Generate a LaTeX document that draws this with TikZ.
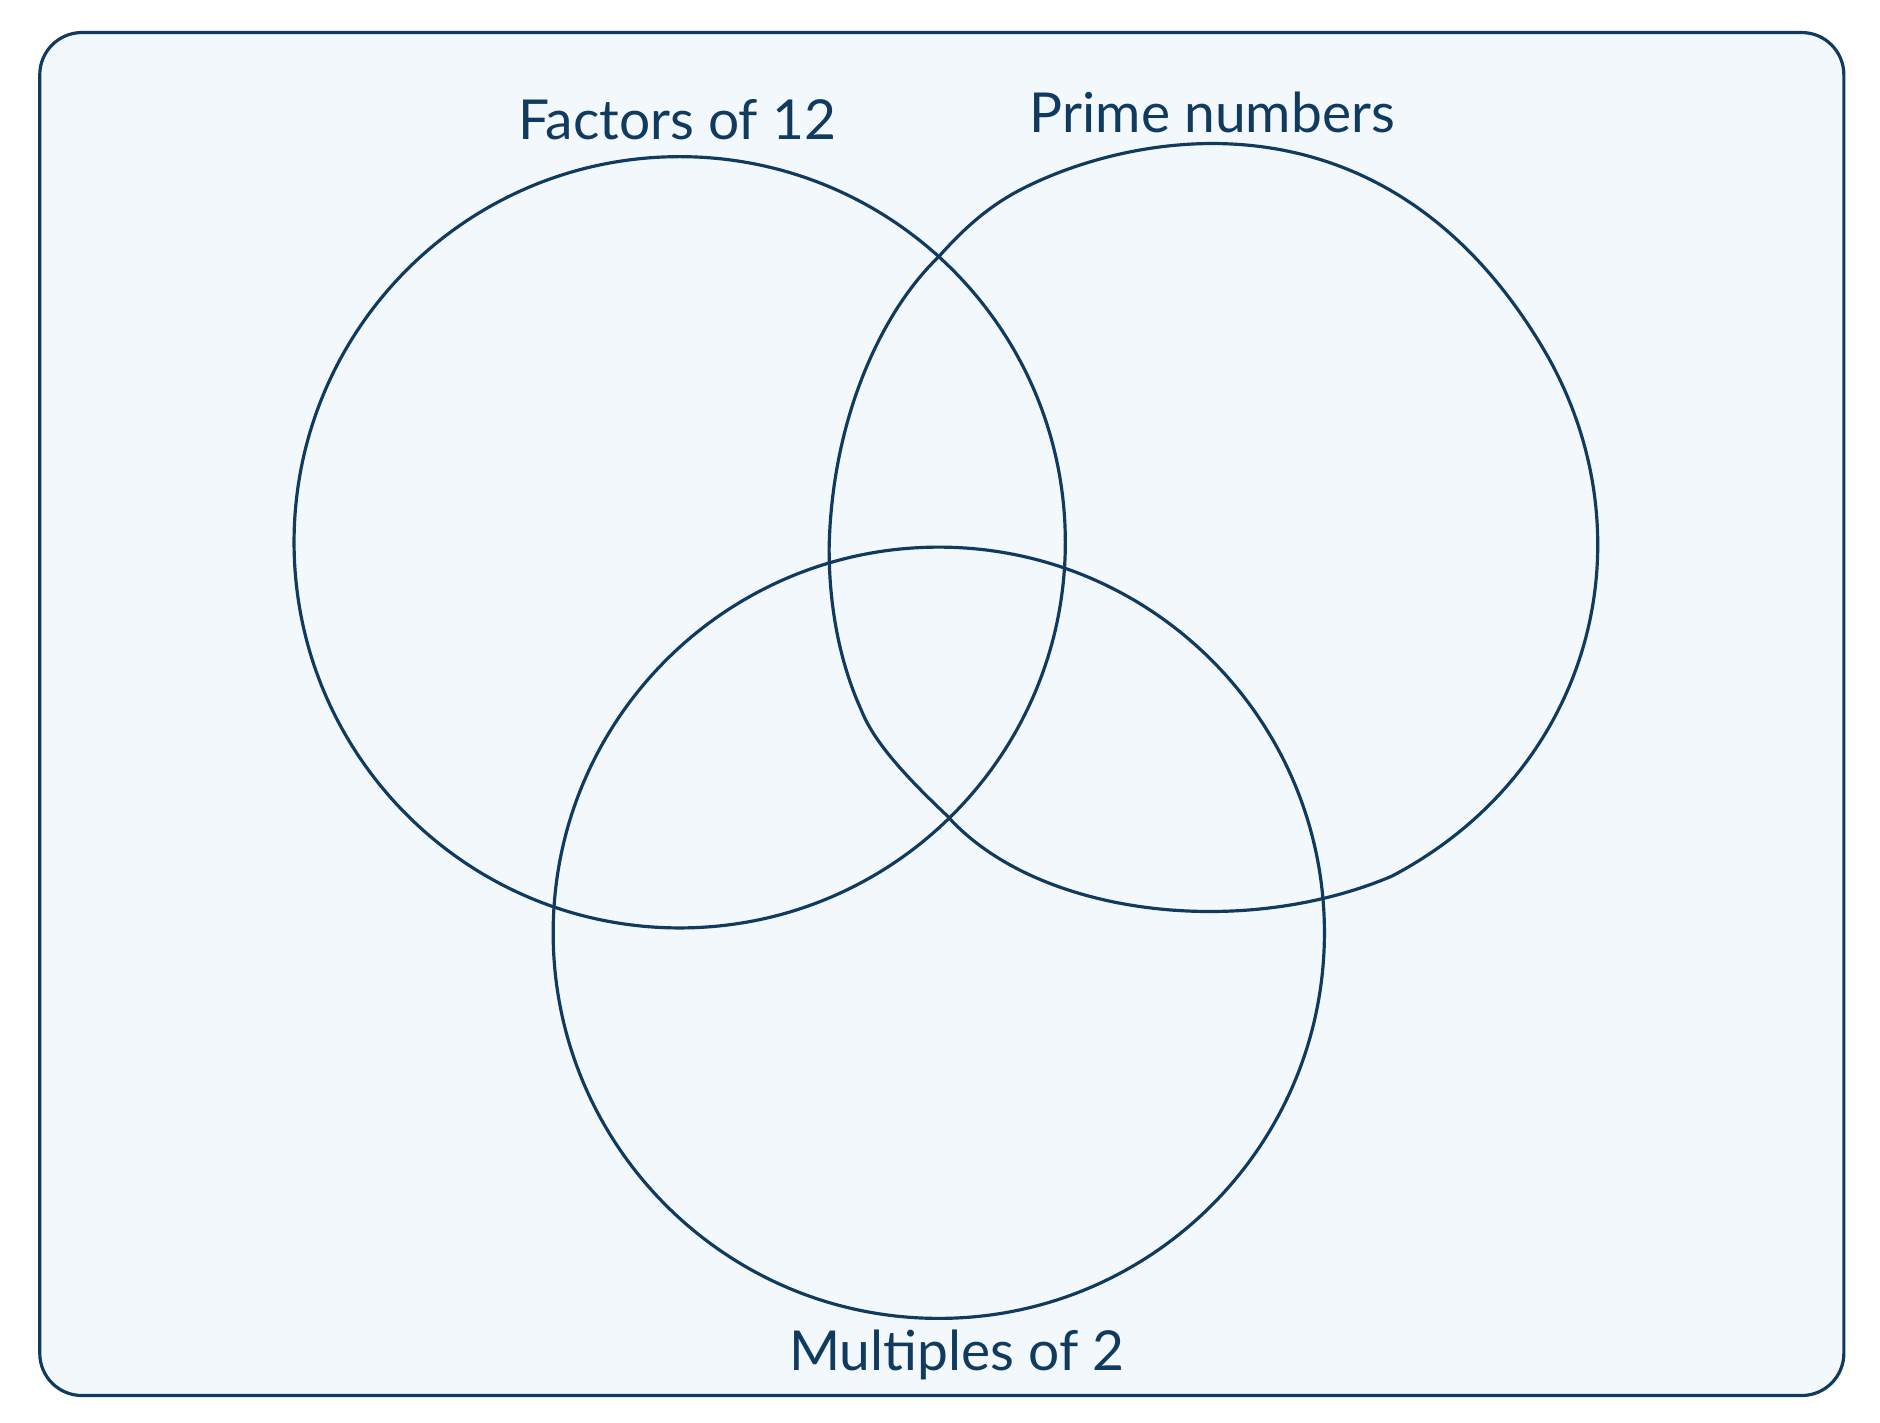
\documentclass[tikz,border=0pt]{standalone}
\usepackage{fontspec}
\setmainfont{Lato}
\definecolor{ink}{HTML}{103A5E}
\definecolor{bg}{HTML}{F3F8FD}
\tikzset{setline/.style={draw=ink,line width=0.75pt},
lab/.style={text=ink,font=\fontsize{13}{15}\selectfont,inner sep=0pt}}
\begin{document}
\begin{tikzpicture}[x=0.01cm,y=-0.01cm]
\useasboundingbox (0,0) rectangle (1560,1180);
\draw[setline,fill=bg,rounded corners=0.35cm] (33,27) rectangle (1530,1158);
\draw[setline] (564,450) circle[radius=320];
\draw[setline] (779,774) circle[radius=320];
\draw[setline] (842,160) .. controls (930,112) and (1150,60) .. (1285,297)
 .. controls (1370,450) and (1320,640) .. (1155,727)
 .. controls (1030,780) and (860,760) .. (786,677)
 .. controls (750,643) and (725,615) .. (715,590)
 .. controls (690,535) and (688,480) .. (688,455)
 .. controls (690,350) and (730,260) .. (779,213)
 .. controls (795,195) and (815,175) .. (842,160) -- cycle;
\node[lab] (fa) at (562,99) {Factors of 12};
\node[lab] (pr) at (1006,93) {Prime numbers};
\node[lab] (mu) at (794,1124) {Multiples of 2};
\end{tikzpicture}
\end{document}
